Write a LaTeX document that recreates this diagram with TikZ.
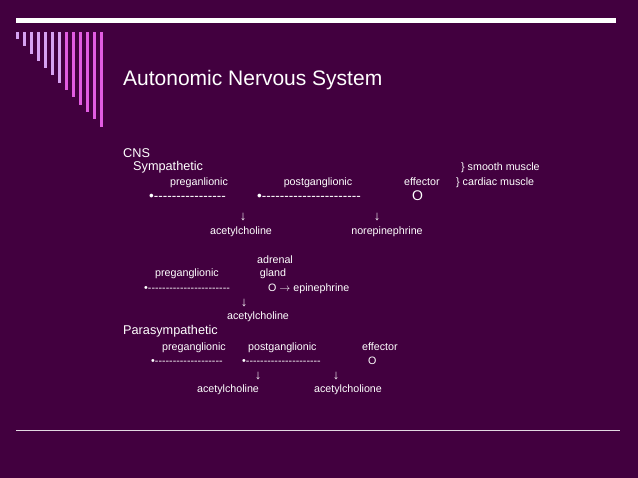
\documentclass[tikz,border=0pt]{standalone}
\usepackage{fontspec}
\setmainfont{Liberation Sans}[Ligatures=TeXOff]
\usetikzlibrary{positioning}
\definecolor{slidebg}{HTML}{42003F}
\definecolor{stripelight}{HTML}{D6A2F2}
\definecolor{stripepink}{HTML}{E25CE2}
\tikzset{
  txt/.style={text=white, inner sep=0pt, anchor=base west, font=\fontsize{10.7}{12}\selectfont},
  ctxt/.style={txt, anchor=base},
  head/.style={txt, font=\fontsize{12.7}{14}\selectfont},
  arr/.style={ctxt, font=\fontsize{13}{14}\selectfont},
}
\begin{document}
\begin{tikzpicture}[x=1pt,y=-1pt]
    \fill[slidebg] (0,0) rectangle (638,478);
    \useasboundingbox (0,0) rectangle (638,478);

    % rules
    \fill[white] (16,18) rectangle (616,23);
    \draw[white!85!slidebg, line width=0.6pt] (16,430) -- (620,430);

    % stripes
    \foreach \i in {0,...,12}{
        \ifnum\i<7 \def\stc{stripelight}\else\def\stc{stripepink}\fi
        \fill[\stc] (16+7*\i,32) rectangle (18.6+7*\i,39+7.3*\i);
    }

    \node[txt, font=\fontsize{21}{24}\selectfont] (title) at (123,86) {Autonomic Nervous System};

    % sympathetic
    \node[head] (cns) at (123,158) {CNS};
    \node[head] (symp) at (133,171) {Sympathetic};
    \node[txt] (smooth) at (461,171) {\} smooth muscle};
    \node[txt] (pre1) at (170,186) {preganlionic};
    \node[ctxt] (post1) at (318,186) {postganglionic};
    \node[txt] (eff1) at (404,186) {effector};
    \node[txt] (cardiac) at (456,186) {\} cardiac muscle};
    \node[txt, font=\fontsize{13.5}{14}\selectfont] (fibA) at (149,201) {\textbullet----------------};
    \node[txt, font=\fontsize{13.5}{14}\selectfont] (fibB) at (257,201) {\textbullet----------------------};
    \node[txt, font=\fontsize{14}{16}\selectfont] (effO1) at (412,201) {O};
    \node[arr] (arA) at (243,221) {↓};
    \node[arr] (arB) at (377,221) {↓};
    \node[ctxt] (ach1) at (241,235) {acetylcholine};
    \node[ctxt] (nor) at (387,235) {norepinephrine};

    % adrenal
    \node[ctxt] (adr) at (275,264) {adrenal};
    \node[txt] (pre2) at (155,277) {preganglionic};
    \node[ctxt] (gland) at (273,277) {gland};
    \node[txt] (fibC) at (144,292) {\textbullet-----------------------};
    \node[txt] (epi) at (268,292) {O $\rightarrow$ epinephrine};
    \node[arr] (arC) at (244,307) {↓};
    \node[ctxt] (ach2) at (258,320) {acetylcholine};

    % parasympathetic
    \node[head] (para) at (123,335) {Parasympathetic};
    \node[txt] (pre3) at (162,351) {preganglionic};
    \node[txt] (post3) at (248,351) {postganglionic};
    \node[txt] (eff3) at (362,351) {effector};
    \node[txt] (fibD) at (151,365) {\textbullet-------------------};
    \node[txt] (fibE) at (242,365) {\textbullet---------------------};
    \node[txt] (effO3) at (368,365) {O};
    \node[arr] (arD) at (258,380) {↓};
    \node[arr] (arE) at (336,380) {↓};
    \node[ctxt] (ach3) at (228,393) {acetylcholine};
    \node[ctxt] (ach4) at (348,393) {acetylcholione};
\end{tikzpicture}
\end{document}
